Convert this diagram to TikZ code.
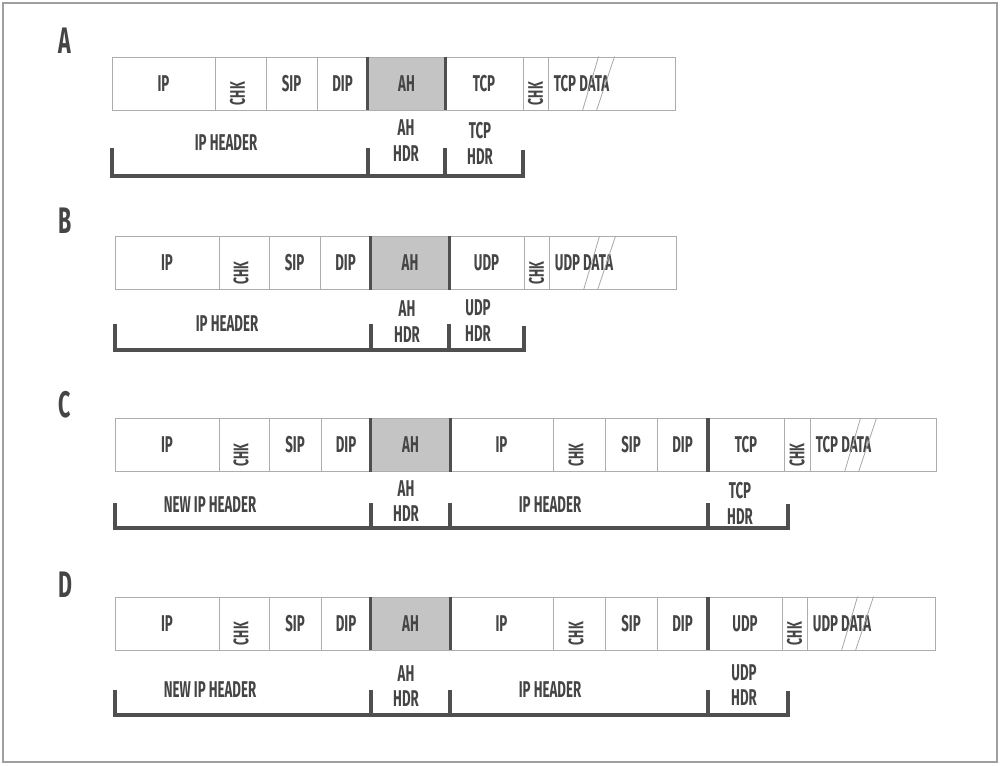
\documentclass[tikz,border=0pt]{standalone}
\usepackage{fontspec}
\setmainfont{Fira Sans}[FakeStretch=0.58]
\definecolor{inkgray}{HTML}{454545}
\definecolor{linegray}{HTML}{ADADAD}
\definecolor{ahgray}{HTML}{C4C4C4}
\definecolor{bargray}{HTML}{4F4F4F}
\tikzset{
  cell/.style={rectangle, draw=linegray, line width=0.5pt, inner sep=0pt, minimum height=1.06cm, text=inkgray, font=\bfseries\fontsize{13}{15}\selectfont},
  ahcell/.style={cell, fill=ahgray},
  chklabel/.style={rotate=90, anchor=west, inner sep=0pt, text=inkgray, font=\bfseries\fontsize{12}{14}\selectfont},
  datalabel/.style={anchor=west, inner sep=0pt, text=inkgray, font=\bfseries\fontsize{13}{15}\selectfont},
  hdrlabel/.style={align=center, inner sep=0pt, text=inkgray, font=\bfseries\fontsize{13}{14.7}\selectfont},
  rowlabel/.style={inner sep=0pt, text=inkgray, font=\bfseries\fontsize{21}{24}\selectfont},
  thickbar/.style={draw=bargray, line width=2.2pt},
  bracket/.style={draw=bargray, line width=2pt},
  slash/.style={draw=gray!70, line width=0.45pt},
  frame/.style={draw=gray!75, line width=1.2pt}
}
\begin{document}
\begin{tikzpicture}[x=0.02cm, y=-0.02cm]
  \useasboundingbox (0,0) rectangle (1000,766);
  \draw[frame] (3,3) rectangle (997,762);

  % A: transport mode, TCP
  \node[rowlabel] (labA) at (65,41) {A};
  \foreach \n/\l/\r/\t/\s in {ip/112/215/IP/cell, chk/215/266//cell, sip/266/317/SIP/cell, dip/317/368/DIP/cell,
      ah/368/445/AH/ahcell, tcp/445/523/TCP/cell, chkb/523/548//cell, data/548/675//cell}
    \node[\s, minimum width={(\r-\l)*0.02cm}] (A-\n) at ({(\l+\r)/2},83.5) {\t};
  \node[chklabel] (A-chkt) at ([xshift=-0.06cm, yshift=0.1cm]A-chk.south) {CHK};
  \node[chklabel] (A-chkbt) at ([yshift=0.1cm]A-chkb.south) {CHK};
  \node[datalabel] (A-datat) at ([xshift=0.12cm]A-data.west) {TCP DATA};
  \draw[slash] ([xshift=0.7cm]A-data.south west) -- ([xshift=1.02cm]A-data.north west);
  \draw[slash] ([xshift=0.98cm]A-data.south west) -- ([xshift=1.34cm]A-data.north west);
  \draw[thickbar] (A-ah.north west) -- (A-ah.south west);
  \draw[thickbar] (A-ah.north east) -- (A-ah.south east);
  \draw[bracket] (112,148) -- (112,176) -- (523,176) -- (523,150);
  \foreach \x in {368,445} \draw[bracket] (\x,148) -- (\x,176);
  \node[hdrlabel] (A-iphdr) at (226,143) {IP HEADER};
  \node[hdrlabel] (A-ahhdr) at (406,141) {AH\\HDR};
  \node[hdrlabel] (A-tcphdr) at (480,143) {TCP\\HDR};

  % B: transport mode, UDP
  \node[rowlabel] (labB) at (65,221) {B};
  \foreach \n/\l/\r/\t/\s in {ip/115/219/IP/cell, chk/219/269//cell, sip/269/320/SIP/cell, dip/320/371/DIP/cell,
      ah/371/449/AH/ahcell, udp/449/524/UDP/cell, chkb/524/549//cell, data/549/676//cell}
    \node[\s, minimum width={(\r-\l)*0.02cm}] (B-\n) at ({(\l+\r)/2},263) {\t};
  \node[chklabel] (B-chkt) at ([xshift=-0.06cm, yshift=0.1cm]B-chk.south) {CHK};
  \node[chklabel] (B-chkbt) at ([yshift=0.1cm]B-chkb.south) {CHK};
  \node[datalabel] (B-datat) at ([xshift=0.12cm]B-data.west) {UDP DATA};
  \draw[slash] ([xshift=0.7cm]B-data.south west) -- ([xshift=1.02cm]B-data.north west);
  \draw[slash] ([xshift=0.98cm]B-data.south west) -- ([xshift=1.34cm]B-data.north west);
  \draw[thickbar] (B-ah.north west) -- (B-ah.south west);
  \draw[thickbar] (B-ah.north east) -- (B-ah.south east);
  \draw[bracket] (115,324) -- (115,350) -- (524,350) -- (524,326);
  \foreach \x in {371,449} \draw[bracket] (\x,324) -- (\x,350);
  \node[hdrlabel] (B-iphdr) at (227,324) {IP HEADER};
  \node[hdrlabel] (B-ahhdr) at (407,322) {AH\\HDR};
  \node[hdrlabel] (B-udphdr) at (478,321) {UDP\\HDR};

  % C: tunnel mode, TCP
  \node[rowlabel] (labC) at (65,405) {C};
  \foreach \n/\l/\r/\t/\s in {ip/115/219/IP/cell, chk/219/269//cell, sip/269/321/SIP/cell, dip/321/371/DIP/cell,
      ah/371/450/AH/ahcell, ipb/450/553/IP/cell, chkc/553/605//cell, sipb/605/657/SIP/cell, dipb/657/708/DIP/cell,
      tcp/708/784/TCP/cell, chkb/784/810//cell, data/810/936//cell}
    \node[\s, minimum width={(\r-\l)*0.02cm}] (C-\n) at ({(\l+\r)/2},445) {\t};
  \node[chklabel] (C-chkt) at ([xshift=-0.06cm, yshift=0.1cm]C-chk.south) {CHK};
  \node[chklabel] (C-chkct) at ([xshift=-0.06cm, yshift=0.1cm]C-chkc.south) {CHK};
  \node[chklabel] (C-chkbt) at ([yshift=0.1cm]C-chkb.south) {CHK};
  \node[datalabel] (C-datat) at ([xshift=0.12cm]C-data.west) {TCP DATA};
  \draw[slash] ([xshift=0.7cm]C-data.south west) -- ([xshift=1.02cm]C-data.north west);
  \draw[slash] ([xshift=0.98cm]C-data.south west) -- ([xshift=1.34cm]C-data.north west);
  \draw[thickbar] (C-ah.north west) -- (C-ah.south west);
  \draw[thickbar] (C-ah.north east) -- (C-ah.south east);
  \draw[thickbar] (C-tcp.north west) -- (C-tcp.south west);
  \draw[bracket] (115,503) -- (115,528) -- (788,528) -- (788,504);
  \foreach \x in {371,450,708} \draw[bracket] (\x,503) -- (\x,528);
  \node[hdrlabel] (C-newhdr) at (210,505) {NEW IP HEADER};
  \node[hdrlabel] (C-ahhdr) at (406,501) {AH\\HDR};
  \node[hdrlabel] (C-iphdr) at (550,505) {IP HEADER};
  \node[hdrlabel] (C-tcphdr) at (740,503) {TCP\\HDR};

  % D: tunnel mode, UDP
  \node[rowlabel] (labD) at (65,585) {D};
  \foreach \n/\l/\r/\t/\s in {ip/115/219/IP/cell, chk/219/269//cell, sip/269/321/SIP/cell, dip/321/371/DIP/cell,
      ah/371/450/AH/ahcell, ipb/450/553/IP/cell, chkc/553/605//cell, sipb/605/657/SIP/cell, dipb/657/708/DIP/cell,
      udp/708/782/UDP/cell, chkb/782/807//cell, data/807/935//cell}
    \node[\s, minimum width={(\r-\l)*0.02cm}] (D-\n) at ({(\l+\r)/2},623.5) {\t};
  \node[chklabel] (D-chkt) at ([xshift=-0.06cm, yshift=0.1cm]D-chk.south) {CHK};
  \node[chklabel] (D-chkct) at ([xshift=-0.06cm, yshift=0.1cm]D-chkc.south) {CHK};
  \node[chklabel] (D-chkbt) at ([yshift=0.1cm]D-chkb.south) {CHK};
  \node[datalabel] (D-datat) at ([xshift=0.12cm]D-data.west) {UDP DATA};
  \draw[slash] ([xshift=0.7cm]D-data.south west) -- ([xshift=1.02cm]D-data.north west);
  \draw[slash] ([xshift=0.98cm]D-data.south west) -- ([xshift=1.34cm]D-data.north west);
  \draw[thickbar] (D-ah.north west) -- (D-ah.south west);
  \draw[thickbar] (D-ah.north east) -- (D-ah.south east);
  \draw[thickbar] (D-udp.north west) -- (D-udp.south west);
  \draw[bracket] (115,690) -- (115,715) -- (788,715) -- (788,691);
  \foreach \x in {371,450,708} \draw[bracket] (\x,690) -- (\x,715);
  \node[hdrlabel] (D-newhdr) at (210,690) {NEW IP HEADER};
  \node[hdrlabel] (D-ahhdr) at (406,686) {AH\\HDR};
  \node[hdrlabel] (D-iphdr) at (550,690) {IP HEADER};
  \node[hdrlabel] (D-udphdr) at (744,685) {UDP\\HDR};
\end{tikzpicture}
\end{document}
